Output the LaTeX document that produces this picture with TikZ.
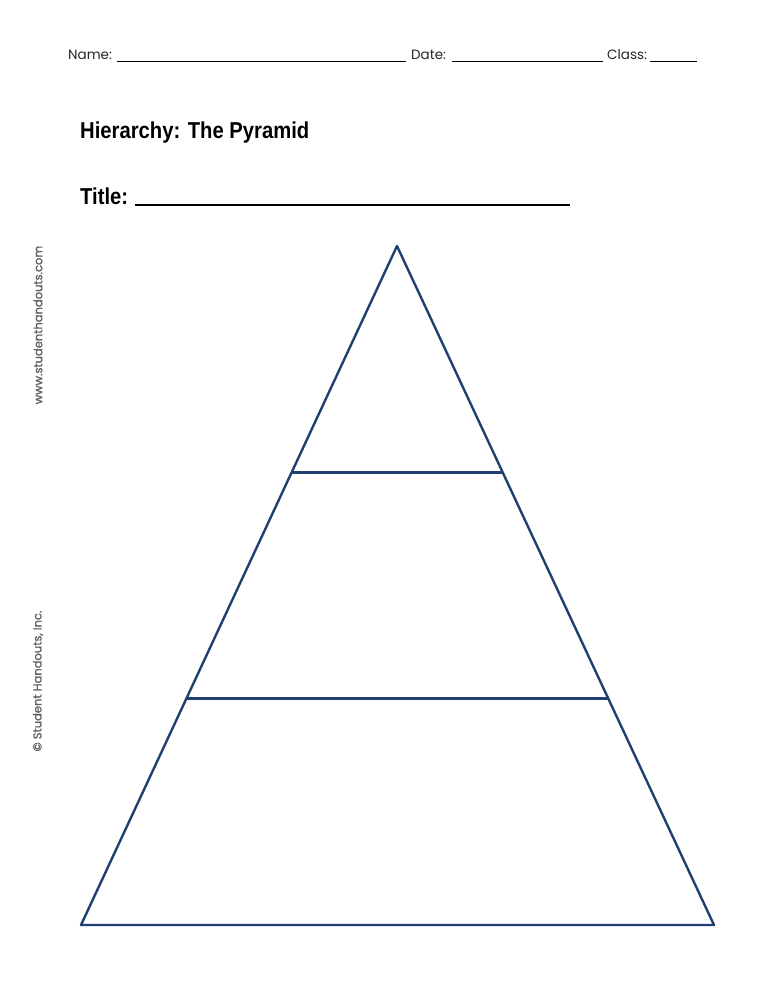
\documentclass[tikz,border=0pt]{standalone}
\usepackage{fontspec}
\setmainfont{Liberation Sans}
\newfontfamily\gothic{Poppins}
\newfontfamily\gothicsemi[FakeBold=1.3]{Poppins}
\usetikzlibrary{calc}

\definecolor{pyrblue}{RGB}{31,64,112}
\definecolor{sidegray}{RGB}{95,95,95}
\tikzset{
  tier/.style={draw=pyrblue, line width=2.4pt, line join=round},
  blank/.style={line width=0.7pt},
  headtext/.style={font=\gothic\fontsize{13.5}{16}\selectfont, inner sep=0pt, anchor=base west, text=black!85},
  heading/.style={font=\bfseries\fontsize{23}{27}\selectfont, inner sep=0pt, anchor=base west},
  sidetext/.style={font=\gothicsemi\fontsize{11.5}{13}\selectfont, text=sidegray, rotate=90, inner sep=0pt}
}

\begin{document}
\begin{tikzpicture}[x=1pt, y=-1pt]
				\useasboundingbox (0,0) rectangle (768,994);
				% header
				\node [headtext] (name) at (68,59) {Name:};
				\draw [blank] (117,61) -- (406,61);
				\node [headtext] (date) at (411,59) {Date:};
				\draw [blank] (452,61) -- (603,61);
				\node [headtext] (class) at (607,59) {Class:};
				\draw [blank] (650,61) -- (697,61);
				% headings
				\node [heading] (pyramid) at (80,138) {\scalebox{0.88}[1]{Hierarchy: The Pyramid}};
				\node [heading] (title) at (80,204) {\scalebox{0.88}[1]{Title:}};
				\draw [line width=1.4pt] (135,205) -- (570,205);
				% side text
				\node [sidetext] (web) at (38,325) {www.studenthandouts.com};
				\node [sidetext] (copy) at (38,681) {\textcopyright{} Student Handouts, Inc.};
				% pyramid
				\coordinate (apex) at (397,246);
				\coordinate (left) at (81,925);
				\coordinate (right) at (714,925);
				\draw [tier] (apex) -- (left) -- (right) -- cycle;
				\draw [tier] ($(apex)!1/3!(left)$) -- ($(apex)!1/3!(right)$);
				\draw [tier] ($(apex)!2/3!(left)$) -- ($(apex)!2/3!(right)$);
			\end{tikzpicture}
\end{document}
